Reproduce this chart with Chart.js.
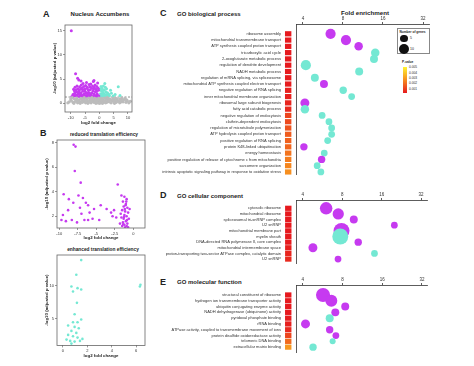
<!DOCTYPE html>
<html><head><meta charset="utf-8">
<script src="https://cdn.jsdelivr.net/npm/chart.js@4"></script>
<style>
body{margin:0;background:#fff;width:474px;height:366px;overflow:hidden;position:relative;font-family:"Liberation Sans",Arial,sans-serif;color:#222}
canvas{position:absolute}
.t{position:absolute;white-space:nowrap;line-height:1;font-weight:bold}
.n{position:absolute;white-space:nowrap;line-height:1}
</style></head><body>
<div class="t" style="left:43px;top:9.5px;font-size:9px">A</div>
<div class="t" style="left:40px;top:128.5px;font-size:9px">B</div>
<div class="t" style="left:160px;top:9px;font-size:9px">C</div>
<div class="t" style="left:160px;top:190.5px;font-size:9px">D</div>
<div class="t" style="left:160px;top:277.5px;font-size:9px">E</div>
<div class="t" style="left:100px;top:11px;font-size:6px;transform:translateX(-50%)">Nucleus Accumbens</div>
<div class="t" style="left:104px;top:132.5px;font-size:4.8px;transform:translateX(-50%)">reduced translation efficiency</div>
<div class="t" style="left:103px;top:247.5px;font-size:4.8px;transform:translateX(-50%)">enhanced translation efficiency</div>
<div class="t" style="left:177px;top:11px;font-size:6px">GO biological process</div>
<div class="t" style="left:365px;top:10px;font-size:6.2px;transform:translateX(-50%)">Fold enrichment</div>
<div class="t" style="left:177px;top:192.5px;font-size:6px">GO cellular component</div>
<div class="t" style="left:177px;top:278.5px;font-size:6px">GO molecular function</div>

<div id="sizeLeg" style="position:absolute;left:397px;top:28px;width:33px;height:26px;border:0.6px solid #888;box-sizing:border-box"></div>
<div id="pLeg"></div>

<canvas id="cA" width="84" height="104" style="left:52px;top:21px"></canvas>
<canvas id="cB1" width="105" height="104" style="left:44px;top:136px"></canvas>
<canvas id="cB2" width="105" height="107" style="left:44px;top:251px"></canvas>
<canvas id="cC" width="285" height="164" style="left:150px;top:16px"></canvas>
<canvas id="cD" width="285" height="79" style="left:150px;top:192px"></canvas>
<canvas id="cE" width="285" height="83" style="left:150px;top:277px"></canvas>
<script>
// ---------------- DATA ----------------
// Panel A: Nucleus Accumbens volcano (x = log2 fold change, y = -log10 adj p)
const volcanoA_ns = [[-10.5,0.3],[-9.8,0.6],[-9.2,0.2],[-8.7,0.9],[-8.3,0.4],[-7.9,1.1],[-7.6,0.1],[-7.2,0.7],[-6.9,0.3],[-6.5,1.0],[-6.2,0.5],[-5.9,0.2],[-5.6,0.8],[-5.3,1.2],[-5.0,0.4],[-4.8,0.1],[-4.5,0.9],[-4.2,0.6],[-3.9,0.2],[-3.7,1.1],[-3.4,0.5],[-3.1,0.8],[-2.9,0.1],[-2.6,1.2],[-2.4,0.4],[-2.1,0.7],[-1.9,0.2],[-1.6,1.0],[-1.4,0.5],[-1.1,0.3],[-0.9,0.9],[-0.6,0.1],[-0.4,0.6],[-0.2,1.1],[0.1,0.3],[0.3,0.8],[0.5,0.1],[0.8,1.0],[1.0,0.4],[1.3,0.7],[1.5,0.2],[1.8,1.1],[2.0,0.5],[2.3,0.9],[2.6,0.2],[2.9,0.6],[3.2,1.0],[3.5,0.3],[3.8,0.8],[4.1,0.1],[4.4,0.5],[4.8,1.0],[5.1,0.3],[5.5,0.7],[5.9,0.2],[6.3,0.9],[6.7,0.4],[7.1,0.1],[7.5,0.6],[7.9,1.1],[8.3,0.3],[8.8,0.8],[9.3,0.2],[9.8,0.5],[10.3,0.1],[-9.5,1.2],[-8.9,0.0],[-7.4,0.5],[-6.7,0.0],[-4.0,0.0],[-3.2,0.3],[-1.2,0.0],[-0.7,0.4],[0.6,0.6],[1.1,0.0],[2.2,0.1],[3.0,0.4],[4.6,0.7],[6.0,0.5],[7.7,0.3],[9.0,1.0],[-5.4,0.6],[-2.2,0.9],[0.0,0.0],[2.7,1.2],[5.3,0.0],[8.1,0.6],[-11.0,0.1],[10.8,0.4],[-10.0,0.9],[-8.1,0.7],[-6.0,0.9],[-4.6,0.3],[-2.7,0.6],[-0.8,0.7],[1.7,0.4],[3.4,0.7],[5.7,1.0],[7.3,0.9],[9.5,0.7]];
const volcanoA_down = [[-9.6,1.4],[-9.2,1.8],[-8.9,1.5],[-8.6,2.1],[-8.3,1.6],[-8.0,2.4],[-7.7,1.4],[-7.4,1.9],[-7.1,2.6],[-6.8,1.5],[-6.5,2.2],[-6.2,1.7],[-5.9,2.9],[-5.6,1.4],[-5.3,2.0],[-5.0,2.5],[-4.7,1.6],[-4.4,3.1],[-4.1,1.9],[-3.8,2.3],[-3.5,1.5],[-3.2,2.8],[-2.9,1.8],[-2.6,2.2],[-2.3,1.4],[-2.0,3.0],[-1.7,1.7],[-1.4,2.4],[-1.1,1.5],[-0.8,2.0],[-0.5,1.6],[-0.3,2.7],[-9.0,2.9],[-8.5,3.3],[-8.1,2.8],[-7.8,3.6],[-7.5,3.0],[-7.2,4.8],[-6.9,3.4],[-6.6,2.9],[-6.3,3.8],[-6.0,3.2],[-5.7,4.1],[-5.4,3.5],[-5.1,2.9],[-4.8,3.7],[-4.5,4.3],[-4.2,3.3],[-3.9,2.8],[-3.6,3.9],[-3.3,3.4],[-3.0,4.0],[-2.7,3.1],[-2.4,3.6],[-2.1,4.5],[-1.8,3.3],[-1.5,3.8],[-1.2,2.9],[-0.9,3.5],[-0.6,4.2],[-0.4,3.1],[-9.8,15.0],[-8.3,6.1],[-7.6,5.2],[-6.4,4.6],[-1.9,4.7],[-9.3,1.3],[-8.8,1.9],[-7.9,1.7],[-7.0,1.4],[-6.1,1.3],[-5.5,1.8],[-4.9,1.3],[-4.3,1.5],[-3.7,1.4],[-3.1,1.6],[-2.5,1.3],[-1.9,1.9],[-1.3,1.3],[-0.7,1.4],[-0.2,1.5],[-8.7,2.6],[-7.3,2.3],[-5.8,2.5],[-4.6,2.2],[-3.4,2.1],[-2.2,2.6],[-1.0,2.5],[-6.7,2.0],[-5.2,1.6],[-3.9,1.8]];
const volcanoA_up = [[0.2,1.4],[0.4,2.0],[0.5,1.6],[0.7,2.6],[0.8,1.4],[0.9,3.1],[1.0,1.9],[1.2,2.3],[1.3,1.5],[1.4,3.6],[1.5,2.0],[1.7,2.8],[1.8,1.4],[1.9,4.1],[2.0,1.8],[2.2,2.4],[2.3,1.5],[2.5,3.0],[2.6,1.7],[2.8,2.2],[3.0,1.4],[3.2,1.9],[0.3,2.9],[0.6,3.5],[1.1,2.7],[1.6,1.7],[2.1,3.3],[2.7,1.3],[3.5,1.6],[4.2,2.1],[4.8,1.5],[5.5,1.8],[6.6,3.4],[7.2,1.6],[3.9,2.7]];
const pThresholdA = 1.3;
const rangeA_x = [-12, 11.4], rangeA_y = [-1.8, 16.2];
const ticksA_x = [-10, -5, 0, 5, 10], ticksA_y = [0, 5, 10, 15];

// Panel B: reduced / enhanced translation efficiency
const reducedTE = [[-8.05,7.85],[-7.8,7.7],[-7.9,5.7],[-7.1,4.75],[-2.1,4.6],[-9.4,3.8],[-8.7,3.4],[-8.1,3.1],[-7.4,3.7],[-6.8,3.5],[-6.4,3.1],[-6.1,2.9],[-5.3,2.6],[-4.4,2.9],[-3.6,2.6],[-7.2,2.7],[-8.8,2.5],[-6.6,1.7],[-9.7,1.7],[-9.1,1.6],[-8.3,1.7],[-7.6,1.5],[-6.1,1.7],[-5.5,1.8],[-4.6,1.7],[-9.5,2.1],[-7.0,2.2],[-5.9,2.3],[-3.0,2.3],[-2.6,2.5],[-2.8,2.0],[-2.3,1.9],[-1.6,3.7],[-1.2,3.6],[-0.9,3.4],[-1.4,3.2],[-1.0,3.0],[-1.3,2.8],[-0.8,2.7],[-1.5,2.5],[-1.1,2.4],[-0.7,2.3],[-1.2,2.1],[-0.9,2.0],[-1.6,1.9],[-1.3,1.8],[-0.6,1.8],[-1.0,1.6],[-1.4,1.5],[-0.8,1.4],[-1.2,1.3],[-0.9,1.2],[-1.5,1.2],[-0.7,1.1],[-1.1,1.1],[-1.8,1.4],[-1.7,2.2],[-0.5,2.6],[-1.05,2.9],[-1.25,1.95],[-0.85,1.7],[-1.35,1.35],[-0.95,3.2],[-1.15,2.6]];
const rangeB1_x = [-10.3, 1.58], rangeB1_y = [1.04, 8.24];
const ticksB1_x = [-10, -7.5, -5, -2.5, 0], ticksB1_y = [2, 4, 6, 8];
const enhancedTE = [[1.5,13.8],[1.1,11.6],[6.3,9.85],[6.35,10.1],[0.7,9.85],[1.2,9.6],[1.5,9.4],[0.83,9.1],[1.15,7.4],[0.96,5.7],[0.83,4.5],[1.2,4.5],[1.5,4.9],[0.43,4.0],[0.96,3.8],[1.3,3.6],[0.7,3.2],[1.1,2.9],[0.43,2.6],[0.83,2.4],[1.2,2.2],[0.3,1.9],[0.6,1.7],[0.96,1.6],[0.7,1.3],[1.4,1.7],[1.6,2.0]];
const rangeB2_x = [-0.48, 6.72], rangeB2_y = [1.03, 14.56];
const ticksB2_x = [0, 2, 4, 6], ticksB2_y = [5, 10];

// GO enrichment
const foldTicks = [4, 8, 16, 32];
const foldRange = [3.55, 35.5];
const bpTerms = ['ribosome assembly','mitochondrial transmembrane transport','ATP synthesis coupled proton transport','tricarboxylic acid cycle','2-oxoglutarate metabolic process','regulation of dendrite development','NADH metabolic process','regulation of mRNA splicing, via spliceosome','mitochondrial ATP synthesis coupled electron transport','negative regulation of RNA splicing','inner mitochondrial membrane organization','ribosomal large subunit biogenesis','fatty acid catabolic process','negative regulation of endocytosis','clathrin-dependent endocytosis','regulation of microtubule polymerization','ATP hydrolysis coupled proton transport','positive regulation of RNA splicing','protein K48-linked ubiquitination','energy homeostasis','positive regulation of release of cytochrome c from mitochondria','sarcomere organization','intrinsic apoptotic signaling pathway in response to oxidative stress'];
const bpFold  = [6.46,8.43,10.5,14.0,13.7,4.21,10.6,4.92,5.76,8.04,9.30,4.14,4.14,5.58,6.28,6.58,6.58,6.14,4.07,5.79,5.53,5.12,5.46];
const bpGenes = [10,10,6,6,5,10,5,5,5,4,3,7,6,3,3,3,3,3,4,3,4,3,3];
const bpDir   = ['down','down','down','up','up','up','up','up','down','up','up','down','up','up','up','up','up','up','down','up','down','up','up'];
const bpP     = [0.0001,0.0001,0.0001,0.0002,0.0002,0.0002,0.0003,0.0003,0.0003,0.0004,0.0004,0.0005,0.0006,0.0012,0.0013,0.0015,0.0017,0.0018,0.0019,0.0022,0.0024,0.0026,0.0028];

const ccTerms = ['cytosolic ribosome','mitochondrial ribosome','spliceosomal tri-snRNP complex','U2 snRNP','mitochondrial membrane part','myelin sheath','DNA-directed RNA polymerase II, core complex','mitochondrial intermembrane space','proton-transporting two-sector ATPase complex, catalytic domain','U2 snRNP'];
const ccFold  = [6.03,7.46,9.80,20.0,7.90,7.73,10.6,4.78,14.1,7.43];
const ccGenes = [17,13,5,3,31,31,4,7,3,3];
const ccDir   = ['down','down','down','down','down','up','down','down','up','down'];
const ccP     = [0.0001,0.0001,0.0001,0.0002,0.0002,0.0003,0.0003,0.0004,0.0005,0.0006];

const mfTerms = ['structural constituent of ribosome','hydrogen ion transmembrane transporter activity','ubiquitin conjugating enzyme activity','NADH dehydrogenase (ubiquinone) activity','pyridoxal phosphate binding','rRNA binding','ATPase activity, coupled to transmembrane movement of ions','protein disulfide oxidoreductase activity','telomeric DNA binding','extracellular matrix binding'];
const mfFold  = [5.69,6.58,8.38,7.05,6.39,4.19,6.39,7.12,6.73,4.78];
const mfGenes = [23,15,5,5,5,7,4,3,2,4];
const mfDir   = ['down','down','down','down','up','down','down','down','up','up'];
const mfP     = [0.0001,0.0001,0.0002,0.0002,0.0003,0.0004,0.0006,0.0012,0.0020,0.0030];

const sizeLegendGenes = [5, 10];
const pLegendTicks = [0.005, 0.004, 0.003, 0.002, 0.001];

// ---------------- STYLE ----------------
const FONT = "'Liberation Sans', Arial, sans-serif";
const MAG = '#c63af0', CYAN = '#74e8d3', GRAY = '#bcbcbc';
Chart.defaults.font.family = FONT;
Chart.defaults.animation = false;
Chart.defaults.events = [];
const P_LO = 0.00025, P_HI = 0.0052;
const stops = [[230,25,30],[246,140,30],[255,244,50]];
function pColor(p){
  let t = Math.max(0, Math.min(1, (p - P_LO) / (P_HI - P_LO)));
  const s = t < 0.5 ? 0 : 1, u = t < 0.5 ? t / 0.5 : (t - 0.5) / 0.5;
  const a = stops[s], b = stops[s+1];
  return 'rgb(' + a.map((v,i)=>Math.round(v + (b[i]-v)*u)).join(',') + ')';
}
function radius(n){ return 1.3 + 1.2 * Math.sqrt(n); }
function zeroPad(s){ s.paddingLeft = s.paddingRight = s.paddingTop = s.paddingBottom = 0; }
const boxPlugin = { id:'box', afterDraw(c){ const a=c.chartArea, x=c.ctx; x.save(); x.strokeStyle='#666'; x.lineWidth=0.8; x.strokeRect(a.left, a.top, a.right-a.left, a.bottom-a.top); x.restore(); } };
const pts = arr => arr.map(([x,y]) => ({x, y}));

function volcano(id, sets, xr, yr, xt, yt, xH){
  new Chart(document.getElementById(id), {
    type:'scatter',
    data:{ datasets: sets },
    options:{
      responsive:false, devicePixelRatio:1,
      layout:{ padding:{ top:2, right:2 } },
      plugins:{ legend:{display:false}, tooltip:{enabled:false} },
      scales:{
        x:{ type:'linear', min:xr[0], max:xr[1],
          afterBuildTicks: s => { s.ticks = xt.map(v => ({value:v})); },
          afterFit: s => { s.height = xH; zeroPad(s); },
          ticks:{ callback: v => String(v), font:{size:4}, color:'#333', padding:1, maxRotation:0, autoSkip:false },
          grid:{ drawOnChartArea:false, tickLength:2, color:'#555', lineWidth:0.6 },
          border:{ display:false },
          title:{ display:true, text:'log2 fold change', font:{size:4.4, weight:'bold'}, color:'#222', padding:0 } },
        y:{ type:'linear', min:yr[0], max:yr[1],
          afterBuildTicks: s => { s.ticks = yt.map(v => ({value:v})); },
          afterFit: s => { s.width = 13; zeroPad(s); },
          ticks:{ callback: v => String(v), font:{size:4}, color:'#333', padding:1, autoSkip:false },
          grid:{ drawOnChartArea:false, tickLength:2, color:'#555', lineWidth:0.6 },
          border:{ display:false },
          title:{ display:true, text:'-log10 (adjusted p value)', font:{size:4.4, weight:'bold'}, color:'#222', padding:0 } }
      }
    },
    plugins:[boxPlugin]
  });
}
const dot = (data, color, r) => ({ data: pts(data), backgroundColor: color, pointRadius: r, pointBorderWidth: 0, borderWidth: 0 });

volcano('cA', [
  dot(volcanoA_ns, GRAY, 1.6),
  dot(volcanoA_down, MAG, 1.5),
  dot(volcanoA_up, CYAN, 1.5),
  { type:'line', data:[{x:rangeA_x[0], y:pThresholdA},{x:rangeA_x[1], y:pThresholdA}], borderColor:'#444', borderWidth:0.6, borderDash:[2,1.5], pointRadius:0 }
], rangeA_x, rangeA_y, ticksA_x, ticksA_y, 13);
volcano('cB1', [ dot(reducedTE, MAG, 1.3) ], rangeB1_x, rangeB1_y, ticksB1_x, ticksB1_y, 12);
volcano('cB2', [ dot(enhancedTE, CYAN, 1.3) ], rangeB2_x, rangeB2_y, ticksB2_x, ticksB2_y, 12.6);

// p-value squares: one per term row, placed through the chart's own scales
const SQUARE_X = 3.1; // fold value left of the axis where the p-value squares sit
const squarePlugin = { id:'pSquares', afterDatasetsDraw(c, args, o){
  const ctx = c.ctx, xs = c.scales.x, ys = c.scales.y;
  const x = xs.getPixelForValue(SQUARE_X);
  ctx.save();
  o.colors.forEach((col, i) => { const y = ys.getPixelForValue(i); ctx.fillStyle = col; ctx.fillRect(x - 3.2, y - 2.6, 6.4, 5.2); });
  ctx.restore();
} };
function goChart(id, terms, fold, genes, dir, pv, yMin, yMax){
  const rows = terms.map((_, i) => i);
  new Chart(document.getElementById(id), {
    type:'bubble',
    data:{ datasets:[
      { data: rows.map(i => ({x:fold[i], y:i, r:radius(genes[i])})), backgroundColor: dir.map(d => d === 'down' ? MAG : CYAN), borderWidth:0, clip:false }
    ]},
    options:{
      responsive:false, devicePixelRatio:1,
      layout:{ padding:{ right:6 } },
      plugins:{ legend:{display:false}, tooltip:{enabled:false}, pSquares:{ colors: pv.map(pColor) } },
      scales:{
        x:{ type:'logarithmic', position:'top', min:foldRange[0], max:foldRange[1],
          afterBuildTicks: s => { s.ticks = foldTicks.map(v => ({value:v})); },
          afterFit: s => { s.height = 8; zeroPad(s); },
          ticks:{ callback: v => String(v), font:{size:4.5}, color:'#333', padding:0.5, maxRotation:0, autoSkip:false },
          grid:{ drawOnChartArea:false, tickLength:2, color:'#333', lineWidth:0.8 },
          border:{ display:true, color:'#333', width:0.8 } },
        y:{ type:'linear', reverse:true, min:yMin, max:yMax,
          afterBuildTicks: s => { s.ticks = rows.map(v => ({value:v})); },
          afterFit: s => { s.width = 146; zeroPad(s); },
          ticks:{ callback: v => terms[v], font:{size:4}, color:'#333', padding:0, autoSkip:false },
          grid:{ display:true, drawOnChartArea:false, drawTicks:true, tickLength:15, color:'rgba(0,0,0,0)' },
          border:{ display:true, color:'#333', width:0.8 } }
      }
    },
    plugins:[squarePlugin]
  });
}
goChart('cC', bpTerms, bpFold, bpGenes, bpDir, bpP, -1.56, 22.47);
goChart('cD', ccTerms, ccFold, ccGenes, ccDir, ccP, -1.47, 9.7);
goChart('cE', mfTerms, mfFold, mfGenes, mfDir, mfP, -1.72, 10.0);

// Size legend
(function(){
  const leg = document.getElementById('sizeLeg');
  let h = '<div class="t" style="left:1.5px;top:1.5px;font-size:3.2px">Number of genes</div>';
  const cy = [9.5, 20.3];
  sizeLegendGenes.forEach((g, i) => {
    const r = radius(g);
    h += '<div style="position:absolute;left:' + (5.6 - r) + 'px;top:' + (cy[i] - r) + 'px;width:' + (2*r) + 'px;height:' + (2*r) + 'px;border-radius:50%;background:#111"></div>';
    h += '<div class="n" style="left:12px;top:' + (cy[i] - 1.7) + 'px;font-size:3.5px">' + g + '</div>';
  });
  leg.innerHTML = h;
  // P-value colour bar
  const top = 66.7, bot = 93.3, pTopVal = P_HI, pBotVal = P_LO;
  const grad = [];
  for (let k = 0; k <= 10; k++) { const p = pTopVal + (pBotVal - pTopVal) * k / 10; grad.push(pColor(p) + ' ' + (k*10) + '%'); }
  let ph = '<div class="t" style="left:402px;top:61.4px;font-size:3.2px">P-value</div>';
  ph += '<div style="position:absolute;left:403px;top:' + top + 'px;width:4.4px;height:' + (bot-top) + 'px;background:linear-gradient(to bottom,' + grad.join(',') + ')"></div>';
  pLegendTicks.forEach(p => {
    const y = top + (pTopVal - p) / (pTopVal - pBotVal) * (bot - top);
    ph += '<div class="n" style="left:409px;top:' + (y - 1.6) + 'px;font-size:3.2px">' + p.toFixed(3) + '</div>';
  });
  document.getElementById('pLeg').innerHTML = ph;
})();
</script>
</body></html>
